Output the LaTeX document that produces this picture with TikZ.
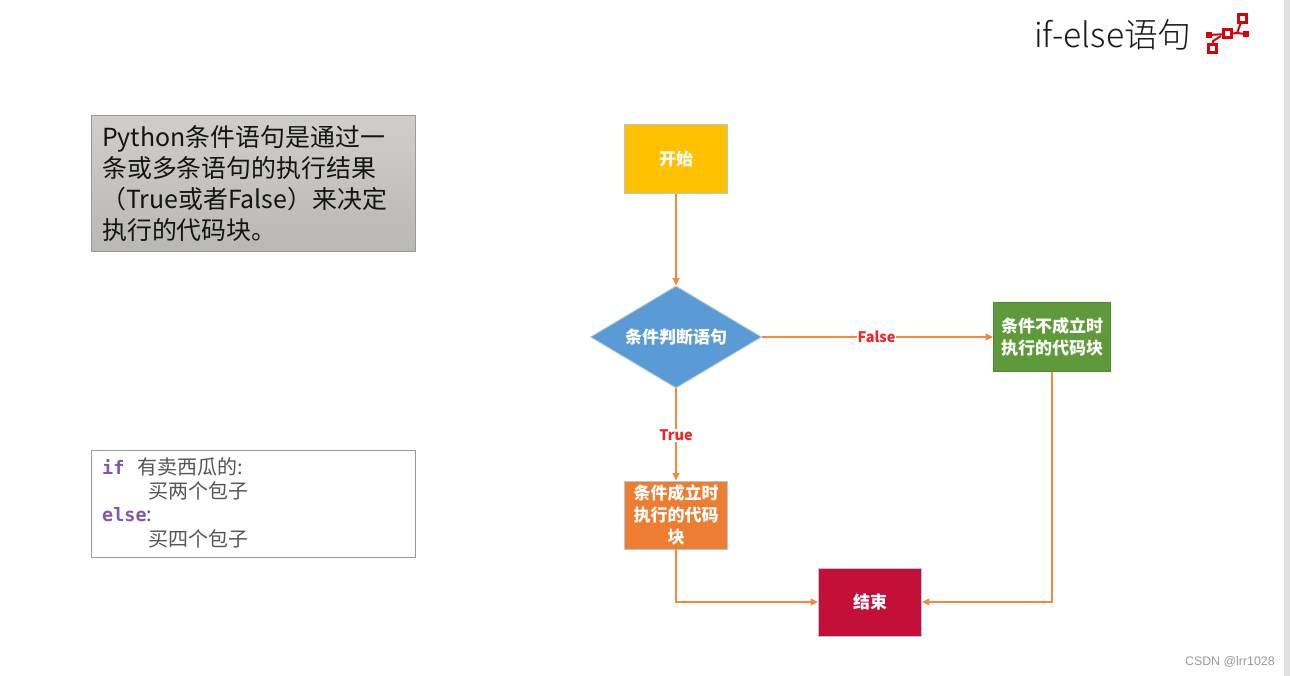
\documentclass[tikz,border=0pt]{standalone}
\usepackage{fontspec}
\usetikzlibrary{shapes.geometric,arrows.meta}
\setmainfont{Noto Sans CJK SC}
\newfontfamily\codefont{DejaVu Sans Mono}
\newfontfamily\markfont{Liberation Sans}
\newfontfamily\lightfont{Noto Sans CJK SC Light}
\definecolor{flowline}{HTML}{F58A3C}
\definecolor{boxedge}{HTML}{B4C7D9}
\definecolor{kw}{HTML}{8358A0}
\definecolor{codetxt}{HTML}{555555}
\definecolor{iconred}{HTML}{D9000D}
\definecolor{cstart}{HTML}{FFC000}
\definecolor{ccond}{HTML}{5B9BD5}
\definecolor{cyes}{HTML}{ED7D31}
\definecolor{cno}{HTML}{5F9A3A}
\definecolor{cnoedge}{HTML}{4F8A32}
\definecolor{cend}{HTML}{C40F39}
\definecolor{gradtop}{HTML}{D0CECC}
\definecolor{gradbot}{HTML}{B9B8B4}
\definecolor{lblred}{HTML}{F02525}
\tikzset{
  x=1pt,y=-1pt,
  flowbox/.style={draw=boxedge,line width=0.9pt,inner sep=0pt,align=center,text=white,font=\fontsize{17}{22}\selectfont\bfseries},
  flowarrow/.style={draw=flowline,line width=1.25pt,-{Triangle[length=7.5pt,width=7pt]}},
  edgelabel/.style={text=lblred,font=\fontsize{14.5}{16}\selectfont\bfseries,inner sep=1pt,fill=white},
  iconbox/.style={draw=iconred,line width=3pt,fill=white,minimum size=8pt,inner sep=0pt},
  icondot/.style={fill=iconred,minimum size=6pt,inner sep=0pt},
  iconline/.style={draw=iconred,line width=2pt},
  codeline/.style={anchor=west,inner sep=0pt,text=codetxt,font=\fontsize{20}{22}\selectfont},
}
\begin{document}
\begin{tikzpicture}
\useasboundingbox (0,0) rectangle (1290,676);
\fill[white] (0,0) rectangle (1290,676);
\fill[black!12] (1284,0) rectangle (1290,676);
% title
\node[anchor=west,inner sep=0pt,text=black!90,font=\fontsize{33.7}{36}\selectfont\lightfont] (title) at (1034,35) {if-else语句};
% icon
\draw[iconline] (1209,35) -- (1227,34);
\draw[iconline] (1213,48) -- (1213,41) -- (1221,36);
\draw[iconline] (1227,34) -- (1237,33) -- (1242,20);
\draw[iconline] (1237,33) -- (1246,34);
\node[iconbox] (ia) at (1212.5,49) {};
\node[icondot] (ib) at (1209,35) {};
\node[iconbox] (ic) at (1227.5,34) {};
\node[iconbox] (id) at (1242,19) {};
\node[icondot] (ie) at (1246,34) {};
% text box
\node[draw=black!40,line width=0.7pt,top color=gradtop,bottom color=gradbot,minimum width=324pt,minimum height=136pt,inner sep=0pt] (desc) at (253.5,183.5) {};
\node[anchor=north west,inner sep=0pt,text width=300pt,align=left,text=black!92,font=\fontsize{24.9}{31}\selectfont] (desctext) at (102,125) {Python条件语句是通过一\\条或多条语句的执行结果\\\hspace*{-1pt}（True或者False）来决定\\执行的代码块。};
% code box
\node[draw=black!40,line width=0.7pt,fill=white,minimum width=324pt,minimum height=107pt,inner sep=0pt] (code) at (253.5,504) {};
\node[codeline] (l1) at (102,467) {{\fontsize{18.5}{20}\selectfont\codefont\bfseries\color{kw}if}\hspace*{13pt}有卖西瓜的:};
\node[codeline] (l2) at (148,491) {买两个包子};
\node[codeline] (l3) at (102,515) {{\fontsize{18.5}{20}\selectfont\codefont\bfseries\color{kw}else}:};
\node[codeline] (l4) at (148,539) {买四个包子};
% flow
\node[flowbox,fill=cstart,minimum width=103pt,minimum height=69pt] (start) at (676,159) {开始};
\node[flowbox,fill=ccond,diamond,aspect=1.68,minimum width=171pt,minimum height=102pt] (cond) at (676,337) {条件判断语句};
\node[flowbox,fill=cyes,minimum width=103pt,minimum height=68pt] (yes) at (676,515) {条件成立时\\执行的代码\\块};
\node[flowbox,fill=cno,draw=cnoedge,minimum width=117pt,minimum height=69pt] (no) at (1052,337) {条件不成立时\\执行的代码块};
\node[flowbox,fill=cend,minimum width=103pt,minimum height=68pt] (end) at (870,602) {结束};
\draw[flowarrow] (start) -- (cond);
\draw[flowarrow] (cond) -- node[edgelabel,pos=0.496] (tf) {False} (no);
\draw[flowarrow] (cond) -- node[edgelabel,pos=0.51] (tt) {True} (yes);
\draw[flowarrow] (yes.south) |- (end.west);
\draw[flowarrow] (no.south) |- (end.east);
% watermark
\node[anchor=east,inner sep=0pt,text=black!40,font=\fontsize{12.4}{14}\selectfont\markfont] (wm) at (1275,662) {CSDN @lrr1028};
\end{tikzpicture}
\end{document}
